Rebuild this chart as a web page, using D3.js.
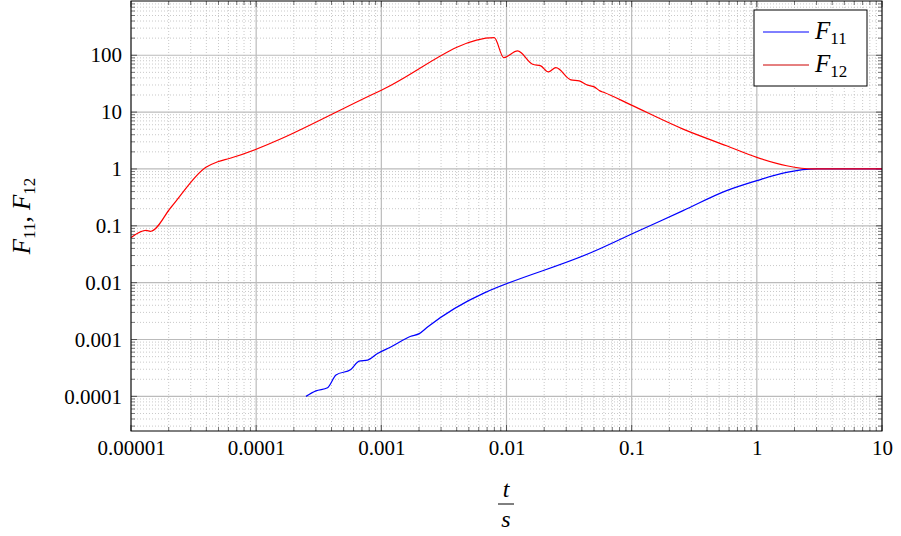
<!DOCTYPE html>
<html>
<head>
<meta charset="utf-8">
<script src="https://cdn.jsdelivr.net/npm/d3@7"></script>
<style>
body { margin: 0; background: #fff; }
text { font-family: "Liberation Serif", "DejaVu Serif", serif; }
</style>
</head>
<body>
<script>
// values
var f12T = [1e-5, 1.03e-5, 1.32e-5, 1.43e-5, 2.09e-5, 3.97e-5, 4.93e-5, 6.1e-5, 0.001, 7.98e-3,
	9.5e-3, 0.01227, 0.01616, 0.0188, 0.0216, 0.0248, 0.0327, 0.0381, 0.0445, 0.0502, 0.0557, 0.0603,
	0.0986, 0.2575, 0.573, 1.0, 1.73, 2.82, 5, 10];
var f12V = [0.062, 0.065, 0.083, 0.080, 0.212, 1.07, 1.34, 1.53, 24.3, 204,
	90.8, 119, 69.5, 64.9, 50.9, 60.5, 36.9, 35.4, 29.8, 27.8, 23.6, 22.1,
	13.4, 5.03, 2.56, 1.6, 1.14, 1.0, 1.0, 1.0];
var f11T = [2.5e-4, 3.0e-4, 3.72e-4, 4.34e-4, 5.71e-4, 6.65e-4, 7.76e-4, 9.33e-4, 1.19e-3, 1.72e-3,
	2.01e-3, 2.34e-3, 0.0557, 0.101, 0.2575, 0.573, 1.0, 1.73, 3.0, 5, 10];
var f11V = [1.0e-4, 1.25e-4, 1.42e-4, 2.37e-4, 2.97e-4, 4.16e-4, 4.33e-4, 5.68e-4, 7.4e-4, 1.14e-3,
	1.27e-3, 1.66e-3, 0.0395, 0.0724, 0.185, 0.416, 0.624, 0.871, 1.0, 1.0, 1.0];
var xTicks = [1e-5, 1e-4, 1e-3, 1e-2, 0.1, 1, 10];
var xTickLabels = ["0.00001", "0.0001", "0.001", "0.01", "0.1", "1", "10"];
var yTicks = [1e-4, 1e-3, 1e-2, 0.1, 1, 10, 100];
var yTickLabels = ["0.0001", "0.001", "0.01", "0.1", "1", "10", "100"];

var w = 901, h = 536;
var pLeft = 131, pRight = 882, pTop = 1, pBottom = 431;

var svg = d3.select("body").append("svg").attr("width", w).attr("height", h);

var xScale = d3.scaleLog().domain([1e-5, 10]).range([pLeft, pRight]);
var yScale = d3.scaleLog().domain([2.46e-5, 900]).range([pBottom, pTop]);

// minor values
var xMinor = [], yMinor = [];
for (var e = -5; e < 1; e++) for (var k = 2; k < 10; k++) xMinor.push(k * Math.pow(10, e));
for (var e2 = -5; e2 < 3; e2++) for (var k2 = 2; k2 < 10; k2++) {
	var v = k2 * Math.pow(10, e2);
	if (v > 2.46e-5 && v < 900) yMinor.push(v);
}

var g = svg.append("g");
g.selectAll(".xmin").data(xMinor).enter().append("line")
	.attr("x1", xScale).attr("x2", xScale).attr("y1", pTop).attr("y2", pBottom)
	.attr("stroke", "#bbb").attr("stroke-width", 0.8).attr("stroke-dasharray", "1,2");
g.selectAll(".ymin").data(yMinor).enter().append("line")
	.attr("y1", yScale).attr("y2", yScale).attr("x1", pLeft).attr("x2", pRight)
	.attr("stroke", "#bbb").attr("stroke-width", 0.8).attr("stroke-dasharray", "1,2");
g.selectAll(".xmaj").data(xTicks).enter().append("line")
	.attr("x1", xScale).attr("x2", xScale).attr("y1", pTop).attr("y2", pBottom)
	.attr("stroke", "#bbb").attr("stroke-width", 1.2);
g.selectAll(".ymaj").data(yTicks).enter().append("line")
	.attr("y1", yScale).attr("y2", yScale).attr("x1", pLeft).attr("x2", pRight)
	.attr("stroke", "#bbb").attr("stroke-width", 1.2);

// inward ticks on all sides
function ticks(vals, len, col) {
	vals.forEach(function(d) {
		var x = xScale(d);
		if (x < pLeft || x > pRight) return;
		g.append("line").attr("x1", x).attr("x2", x).attr("y1", pBottom).attr("y2", pBottom - len).attr("stroke", col);
		g.append("line").attr("x1", x).attr("x2", x).attr("y1", pTop).attr("y2", pTop + len).attr("stroke", col);
	});
}
function yticks(vals, len, col) {
	vals.forEach(function(d) {
		var y = yScale(d);
		g.append("line").attr("y1", y).attr("y2", y).attr("x1", pLeft).attr("x2", pLeft + len).attr("stroke", col);
		g.append("line").attr("y1", y).attr("y2", y).attr("x1", pRight).attr("x2", pRight - len).attr("stroke", col);
	});
}
ticks(xMinor, 4, "#777"); ticks(xTicks, 6, "#555");
yticks(yMinor, 4, "#777"); yticks(yTicks, 6, "#555");

var line = d3.line().x(function(d) { return xScale(d[0]); }).y(function(d) { return yScale(d[1]); })
	.curve(d3.curveMonotoneX);
svg.append("path").datum(d3.zip(f11T, f11V)).attr("d", line)
	.attr("fill", "none").attr("stroke", "#0000ff").attr("stroke-width", 1.2);
svg.append("path").datum(d3.zip(f12T, f12V)).attr("d", line)
	.attr("fill", "none").attr("stroke", "#ff0000").attr("stroke-width", 1.2);

svg.append("rect").attr("x", pLeft).attr("y", pTop).attr("width", pRight - pLeft).attr("height", pBottom - pTop)
	.attr("fill", "none").attr("stroke", "#000").attr("stroke-width", 1);

// tick labels
var xAxis = d3.axisBottom(xScale).tickValues(xTicks).tickSize(0).tickPadding(9)
	.tickFormat(function(d, i) { return xTickLabels[i]; });
var xa = svg.append("g").attr("transform", "translate(0," + pBottom + ")").call(xAxis);
xa.select(".domain").remove();
xa.selectAll("text").attr("font-size", 21).attr("fill", "#000").style("font-family", "Liberation Serif");
var yAxis = d3.axisLeft(yScale).tickValues(yTicks).tickSize(0).tickPadding(9)
	.tickFormat(function(d, i) { return yTickLabels[i]; });
var ya = svg.append("g").attr("transform", "translate(" + pLeft + ",0)").call(yAxis);
ya.select(".domain").remove();
ya.selectAll("text").attr("font-size", 21).attr("fill", "#000").style("font-family", "Liberation Serif");

// axis labels
var xl = svg.append("g").attr("transform", "translate(506,0)");
xl.append("text").attr("x", 0).attr("y", 497).attr("text-anchor", "middle").attr("font-size", 24)
	.attr("font-style", "italic").text("t");
xl.append("line").attr("x1", -8).attr("x2", 8).attr("y1", 504).attr("y2", 504).attr("stroke", "#000");
xl.append("text").attr("x", 0).attr("y", 527).attr("text-anchor", "middle").attr("font-size", 24)
	.attr("font-style", "italic").text("s");

var yl = svg.append("text").attr("transform", "translate(30,216) rotate(-90)").attr("text-anchor", "middle")
	.attr("font-size", 25);
yl.append("tspan").attr("font-style", "italic").text("F");
yl.append("tspan").attr("font-size", 17).attr("dy", 5).text("11");
yl.append("tspan").attr("dy", -5).text(", ");
yl.append("tspan").attr("font-style", "italic").text("F");
yl.append("tspan").attr("font-size", 17).attr("dy", 5).text("12");

// legend
var leg = svg.append("g");
leg.append("rect").attr("x", 754).attr("y", 10).attr("width", 113).attr("height", 76)
	.attr("fill", "#fff").attr("stroke", "#000");
[["11", "#0000ff", 32], ["12", "#cc0000", 65]].forEach(function(d) {
	leg.append("line").attr("x1", 763).attr("x2", 809).attr("y1", d[2]).attr("y2", d[2]).attr("stroke", d[1]);
	var t = leg.append("text").attr("x", 815).attr("y", d[2] + 7).attr("font-size", 25);
	t.append("tspan").attr("font-style", "italic").text("F");
	t.append("tspan").attr("font-size", 17).attr("dy", 5).text(d[0]);
});
</script>
</body>
</html>
